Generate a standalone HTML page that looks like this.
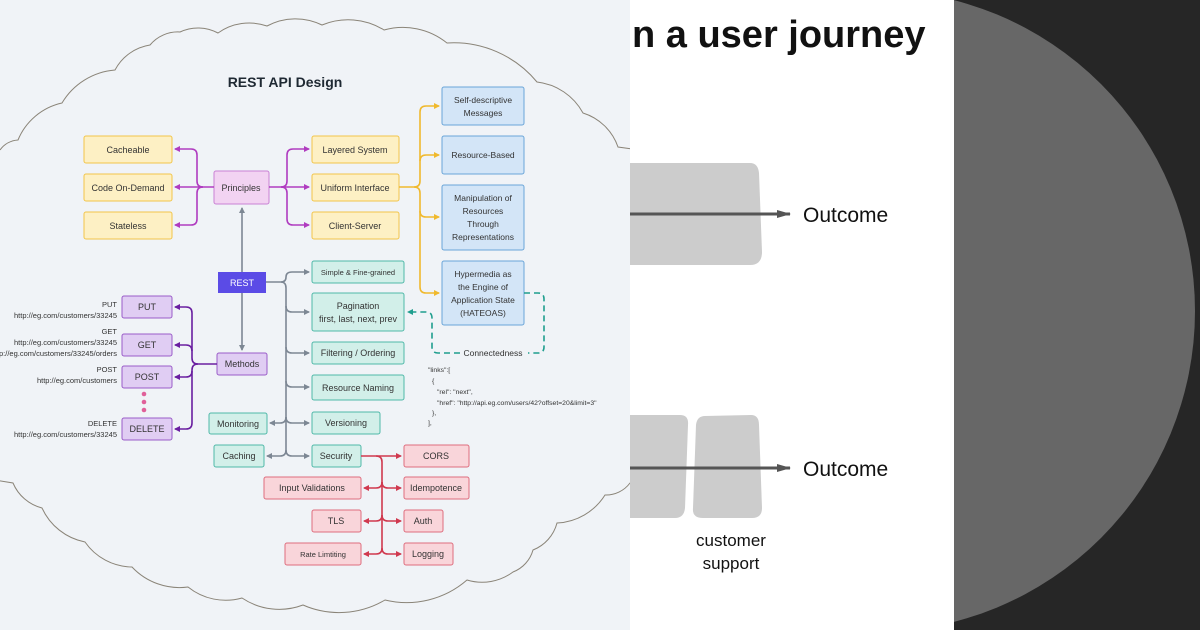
<!DOCTYPE html>
<html><head><meta charset="utf-8"><style>
html,body{margin:0;padding:0;width:1200px;height:630px;overflow:hidden;background:#fff}
svg{display:block}
text{font-family:"Liberation Sans",sans-serif}
</style></head><body>
<svg width="1200" height="630" viewBox="0 0 1200 630" xmlns="http://www.w3.org/2000/svg">
<defs>
<marker id="ap" markerWidth="6" markerHeight="6" refX="5" refY="3" orient="auto" markerUnits="userSpaceOnUse"><path d="M0,0 L6,3 L0,6 z" fill="#b03cc0"/></marker>
<marker id="ay" markerWidth="6" markerHeight="6" refX="5" refY="3" orient="auto" markerUnits="userSpaceOnUse"><path d="M0,0 L6,3 L0,6 z" fill="#f0b92e"/></marker>
<marker id="ag" markerWidth="6" markerHeight="6" refX="5" refY="3" orient="auto" markerUnits="userSpaceOnUse"><path d="M0,0 L6,3 L0,6 z" fill="#7d8794"/></marker>
<marker id="am" markerWidth="6" markerHeight="6" refX="5" refY="3" orient="auto" markerUnits="userSpaceOnUse"><path d="M0,0 L6,3 L0,6 z" fill="#6a1fa0"/></marker>
<marker id="ar" markerWidth="6" markerHeight="6" refX="5" refY="3" orient="auto" markerUnits="userSpaceOnUse"><path d="M0,0 L6,3 L0,6 z" fill="#d0394f"/></marker>
<marker id="at" markerWidth="6" markerHeight="6" refX="5" refY="3" orient="auto" markerUnits="userSpaceOnUse"><path d="M0,0 L6,3 L0,6 z" fill="#1f9e8e"/></marker>
<marker id="ak" markerWidth="14" markerHeight="10" refX="13" refY="5" orient="auto" markerUnits="userSpaceOnUse"><path d="M0,1 L14,5 L0,9 z" fill="#555"/></marker>
</defs>

<rect x="0" y="0" width="630" height="630" fill="#f0f3f7"/>
<path d="M0,150 A24,24 0 0 1 18,140 A62,62 0 0 1 62,103 A68,68 0 0 1 115,70 A48,48 0 0 1 150,45 A36,36 0 0 1 180,32 A42,42 0 0 1 218,33 A54,54 0 0 1 267,26 A60,60 0 0 1 322,25 A68,68 0 0 1 384,30 A70,70 0 0 1 447,43 A108,108 0 0 1 537,82 A60,60 0 0 1 583,113 A54,54 0 0 1 618,147 L640,150 L640,480 L630,483 A30,30 0 0 1 605,495 A60,60 0 0 1 557,523 A40,40 0 0 1 533,550 A33,33 0 0 1 513,572 A52,52 0 0 1 467,580 A92,92 0 0 1 385,600 A90,90 0 0 1 303,605 A67,67 0 0 1 242,598 A60,60 0 0 1 188,587 A65,65 0 0 1 132,567 A58,58 0 0 1 85,542 A60,60 0 0 1 42,508 A43,43 0 0 1 13,483 L-5,480" fill="none" stroke="#8a8478" stroke-width="1"/>

<text x="285" y="87" text-anchor="middle" font-size="14" font-weight="bold" fill="#1f2933">REST API Design</text>

<g font-size="9" fill="#333" text-anchor="middle">
<g fill="#fdf0c4" stroke="#f2c54a" stroke-width="1">
<rect x="84" y="136" width="88" height="27" rx="2"/><rect x="84" y="174" width="88" height="27" rx="2"/><rect x="84" y="212" width="88" height="27" rx="2"/>
<rect x="312" y="136" width="87" height="27" rx="2"/><rect x="312" y="174" width="87" height="27" rx="2"/><rect x="312" y="212" width="87" height="27" rx="2"/>
</g>
<text x="128" y="153">Cacheable</text><text x="128" y="191">Code On-Demand</text><text x="128" y="229">Stateless</text>
<text x="355" y="153">Layered System</text><text x="355" y="191">Uniform Interface</text><text x="355" y="229">Client-Server</text>
<rect x="214" y="171" width="55" height="33" rx="2" fill="#f2d3f2" stroke="#c980d4"/>
<text x="241" y="191">Principles</text>
<g fill="#d3e5f7" stroke="#6aa5d8">
<rect x="442" y="87" width="82" height="38" rx="2"/><rect x="442" y="136" width="82" height="38" rx="2"/><rect x="442" y="185" width="82" height="65" rx="2"/><rect x="442" y="261" width="82" height="64" rx="2"/>
</g>
<g font-size="8.5">
<text x="483" y="103">Self-descriptive</text><text x="483" y="116">Messages</text>
<text x="483" y="158">Resource-Based</text>
<text x="483" y="201">Manipulation of</text><text x="483" y="214">Resources</text><text x="483" y="227">Through</text><text x="483" y="240">Representations</text>
<text x="483" y="277">Hypermedia as</text><text x="483" y="290">the Engine of</text><text x="483" y="303">Application State</text><text x="483" y="316">(HATEOAS)</text>
</g>
<rect x="218" y="272" width="48" height="21" fill="#5b4be6"/>
<text x="242" y="286" fill="#fff">REST</text>
<g fill="#d2efe9" stroke="#4fb8a8">
<rect x="312" y="261" width="92" height="22" rx="2"/><rect x="312" y="293" width="92" height="38" rx="2"/><rect x="312" y="342" width="92" height="22" rx="2"/><rect x="312" y="375" width="92" height="25" rx="2"/><rect x="312" y="412" width="68" height="22" rx="2"/><rect x="312" y="445" width="49" height="22" rx="2"/>
<rect x="209" y="413" width="58" height="21" rx="2"/><rect x="214" y="445" width="50" height="22" rx="2"/>
</g>
<text x="358" y="275" font-size="7.5">Simple &amp; Fine-grained</text>
<text x="358" y="309">Pagination</text><text x="358" y="322">first, last, next, prev</text>
<text x="358" y="356">Filtering / Ordering</text><text x="358" y="391">Resource Naming</text><text x="346" y="426">Versioning</text><text x="336" y="459">Security</text>
<text x="238" y="427">Monitoring</text><text x="239" y="459">Caching</text>
<g fill="#e0cdf3" stroke="#9a5cc8">
<rect x="217" y="353" width="50" height="22" rx="2"/>
<rect x="122" y="296" width="50" height="22" rx="2"/><rect x="122" y="334" width="50" height="22" rx="2"/><rect x="122" y="366" width="50" height="22" rx="2"/><rect x="122" y="418" width="50" height="22" rx="2"/>
</g>
<text x="242" y="367">Methods</text>
<text x="147" y="310">PUT</text><text x="147" y="348">GET</text><text x="147" y="380">POST</text><text x="147" y="432">DELETE</text>
<g fill="#e0609a"><circle cx="144" cy="394" r="2.3"/><circle cx="144" cy="402" r="2.3"/><circle cx="144" cy="410" r="2.3"/></g>
<g fill="#f9d5da" stroke="#de6d7e">
<rect x="404" y="445" width="65" height="22" rx="2"/><rect x="404" y="477" width="65" height="22" rx="2"/><rect x="404" y="510" width="39" height="22" rx="2"/><rect x="404" y="543" width="49" height="22" rx="2"/>
<rect x="264" y="477" width="97" height="22" rx="2"/><rect x="312" y="510" width="49" height="22" rx="2"/><rect x="285" y="543" width="76" height="22" rx="2"/>
</g>
<text x="436" y="459">CORS</text><text x="436" y="491">Idempotence</text><text x="423" y="524">Auth</text><text x="428" y="557">Logging</text>
<text x="312" y="491">Input Validations</text><text x="336" y="524">TLS</text><text x="323" y="557" font-size="7.5">Rate Limtiting</text>
</g>

<g font-size="7.5" fill="#333" text-anchor="end">
<text x="117" y="307">PUT</text><text x="117" y="318">http://eg.com/customers/33245</text>
<text x="117" y="334">GET</text><text x="117" y="345">http://eg.com/customers/33245</text><text x="117" y="356">http://eg.com/customers/33245/orders</text>
<text x="117" y="372">POST</text><text x="117" y="383">http://eg.com/customers</text>
<text x="117" y="426">DELETE</text><text x="117" y="437">http://eg.com/customers/33245</text>
</g>

<g fill="none" stroke-width="1.6">
<g stroke="#b03cc0">
<path d="M214,187 H175" marker-end="url(#ap)"/>
<path d="M203,187 Q197,187 197,181 V155 Q197,149 191,149 H175" marker-end="url(#ap)"/>
<path d="M203,187 Q197,187 197,193 V219 Q197,225 191,225 H175" marker-end="url(#ap)"/>
<path d="M269,187 H309" marker-end="url(#ap)"/>
<path d="M281,187 Q287,187 287,181 V155 Q287,149 293,149 H309" marker-end="url(#ap)"/>
<path d="M281,187 Q287,187 287,193 V219 Q287,225 293,225 H309" marker-end="url(#ap)"/>
</g>
<g stroke="#f0b92e">
<path d="M399,187 H414 Q420,187 420,181 V112 Q420,106 426,106 H439" marker-end="url(#ay)"/>
<path d="M420,161 Q420,155 426,155 H439" marker-end="url(#ay)"/>
<path d="M414,187 Q420,187 420,193 V211 Q420,217 426,217 H439" marker-end="url(#ay)"/>
<path d="M420,211 V287 Q420,293 426,293 H439" marker-end="url(#ay)"/>
</g>
<g stroke="#7d8794">
<path d="M242,272 V208" marker-end="url(#ag)"/>
<path d="M242,293 V350" marker-end="url(#ag)"/>
<path d="M266,282 H281 Q286,282 286,277 Q286,272 292,272 H309" marker-end="url(#ag)"/>
<path d="M281,282 Q286,282 286,288 V450 Q286,456 292,456 H309" marker-end="url(#ag)"/>
<path d="M286,306 Q286,312 292,312 H309" marker-end="url(#ag)"/>
<path d="M286,347 Q286,353 292,353 H309" marker-end="url(#ag)"/>
<path d="M286,381 Q286,387 292,387 H309" marker-end="url(#ag)"/>
<path d="M286,417 Q286,423 292,423 H309" marker-end="url(#ag)"/>
<path d="M286,417 Q286,423 280,423 H270" marker-end="url(#ag)"/>
<path d="M286,450 Q286,456 280,456 H267" marker-end="url(#ag)"/>
</g>
<g stroke="#6a1fa0">
<path d="M217,364 H198 Q192,364 192,358 V313 Q192,307 186,307 H175" marker-end="url(#am)"/>
<path d="M192,351 Q192,345 186,345 H175" marker-end="url(#am)"/>
<path d="M198,364 Q192,364 192,370 V423 Q192,429 186,429 H175" marker-end="url(#am)"/>
<path d="M192,371 Q192,377 186,377 H175" marker-end="url(#am)"/>
</g>
<g stroke="#d0394f">
<path d="M361,456 H376 Q382,456 382,462 V548 Q382,554 388,554 H401" marker-end="url(#ar)"/>
<path d="M376,456 H401" marker-end="url(#ar)"/>
<path d="M382,482 Q382,488 388,488 H401" marker-end="url(#ar)"/>
<path d="M382,482 Q382,488 376,488 H364" marker-end="url(#ar)"/>
<path d="M382,515 Q382,521 388,521 H401" marker-end="url(#ar)"/>
<path d="M382,515 Q382,521 376,521 H364" marker-end="url(#ar)"/>
<path d="M382,548 Q382,554 376,554 H364" marker-end="url(#ar)"/>
</g>
<g stroke="#1f9e8e" stroke-dasharray="6,4">
<path d="M524,293 H538 Q544,293 544,299 V347 Q544,353 538,353 H528"/>
<path d="M460,353 H438 Q432,353 432,347 V318 Q432,312 426,312 H408" marker-end="url(#at)"/>
</g>
</g>
<text x="493" y="356" font-size="8.5" fill="#333" text-anchor="middle">Connectedness</text>
<g font-size="6.8" fill="#333">
<text x="428" y="372">"links":[</text><text x="432" y="383">{</text><text x="437" y="394">"rel": "next",</text><text x="437" y="405">"href": "http://api.eg.com/users/42?offset=20&amp;limit=3"</text><text x="432" y="415">},</text><text x="428" y="425">],</text>
</g>

<rect x="630" y="0" width="324" height="630" fill="#fff"/>
<text x="632" y="47" font-size="38" font-weight="bold" fill="#111">n a user journey</text>
<path d="M630,163 H750 Q758,163 759,173 L762,252 Q762,265 750,265 H630 Z" fill="#cccccc"/>
<path d="M630,415 H680 Q689,415 688,425 L685,508 Q684,518 675,518 H630 Z" fill="#cccccc"/>
<path d="M705,416 L751,415 Q759,415 759,425 L762,508 Q762,518 752,518 H703 Q692,518 693,508 L696,425 Q697,416 705,416 Z" fill="#cccccc"/>
<line x1="630" y1="214" x2="790" y2="214" stroke="#555" stroke-width="3" marker-end="url(#ak)"/>
<line x1="630" y1="468" x2="790" y2="468" stroke="#555" stroke-width="3" marker-end="url(#ak)"/>
<text x="803" y="222" font-size="21" fill="#111">Outcome</text>
<text x="803" y="476" font-size="21" fill="#111">Outcome</text>
<text x="731" y="546" font-size="17" fill="#111" text-anchor="middle">customer</text>
<text x="731" y="569" font-size="17" fill="#111" text-anchor="middle">support</text>

<rect x="954" y="0" width="246" height="630" fill="#262626"/>
<clipPath id="cr"><rect x="954" y="0" width="246" height="630"/></clipPath>
<circle cx="874" cy="311" r="321" fill="#676767" clip-path="url(#cr)"/>
</svg>
</body></html>
